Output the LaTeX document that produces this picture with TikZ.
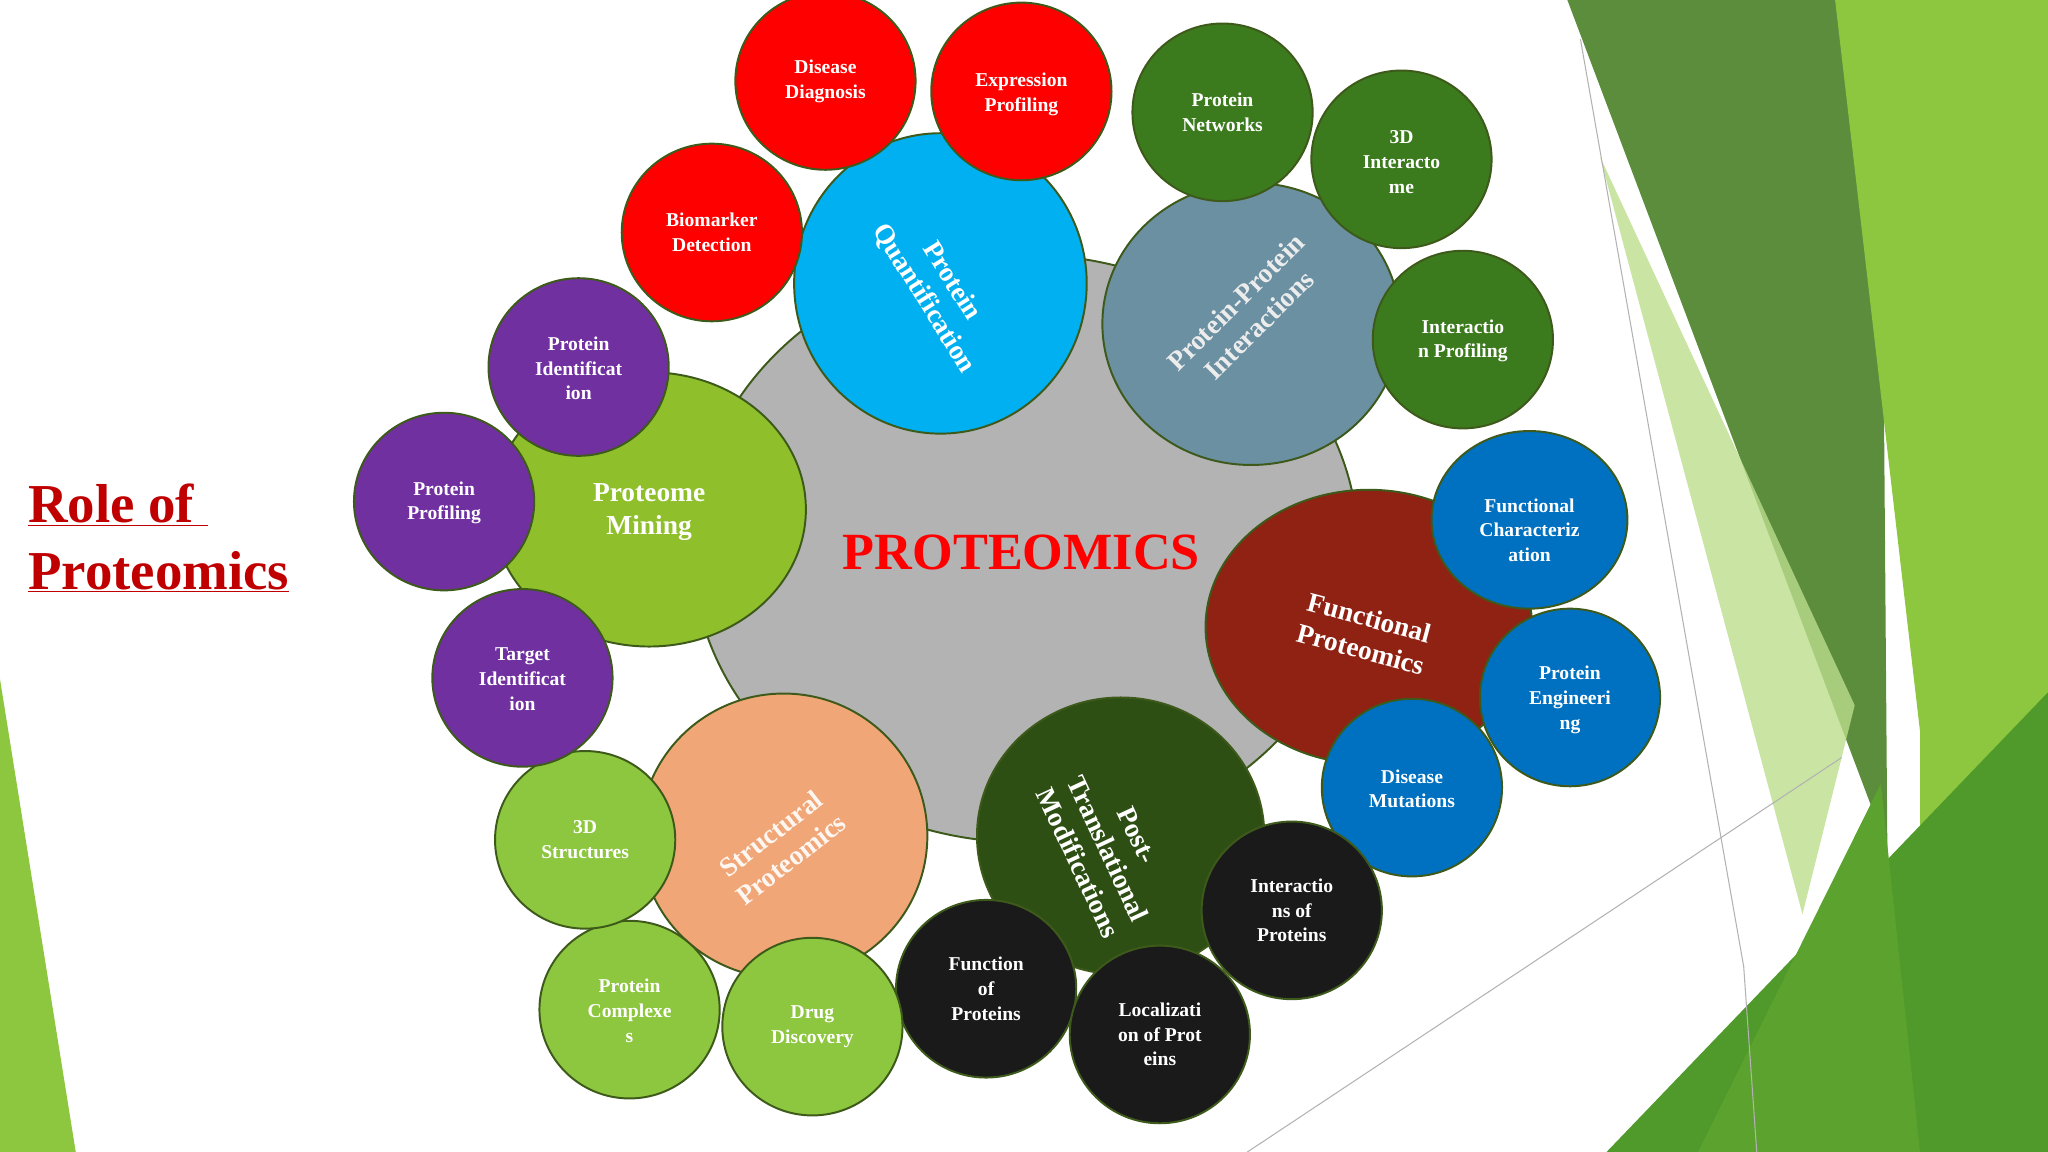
\documentclass[tikz,border=0pt]{standalone}
\usepackage{fontspec}
\setmainfont{Liberation Serif}
\usetikzlibrary{shapes.geometric}
\definecolor{edge}{HTML}{3D5A1A}
\definecolor{cgray}{HTML}{B3B3B3}
\definecolor{ccyan}{HTML}{00B0F0}
\definecolor{csteel}{HTML}{6A90A2}
\definecolor{cdred}{HTML}{902214}
\definecolor{cdgreen}{HTML}{2E4F14}
\definecolor{csalmon}{HTML}{F0A676}
\definecolor{cmining}{HTML}{8FC02C}
\definecolor{cred}{HTML}{FF0000}
\definecolor{cgreen}{HTML}{3C7A1E}
\definecolor{cblue}{HTML}{0070C0}
\definecolor{cblack}{HTML}{1A1A1A}
\definecolor{clight}{HTML}{8DC63F}
\definecolor{cpurple}{HTML}{7030A0}
\definecolor{titlered}{HTML}{C00000}
\definecolor{bgdark}{HTML}{5B8D3C}
\definecolor{bgmid}{HTML}{4F9A2A}
\tikzset{
 blob/.style={ellipse,draw=edge,line width=1.5pt,inner sep=0pt},
 small/.style={blob,minimum width=138pt,minimum height=136pt},
 stxt/.style={text=white,font=\fontsize{15}{19}\selectfont\bfseries,align=center},
 btxt/.style={text=white,font=\fontsize{21}{25}\selectfont\bfseries,align=center},
}
\begin{document}
\begin{tikzpicture}[x=1pt,y=-1pt]
\useasboundingbox (0,0) rectangle (1568,882);
% background greens
\fill[clight] (0,520) -- (58,882) -- (0,882) -- cycle;
\fill[bgdark] (1200,0) -- (1440,0) -- (1445,650) -- cycle;
\fill[clight!60!white,opacity=0.8] (1225,120) -- (1420,540) -- (1380,700) -- cycle;
\fill[clight] (1405,0) -- (1568,0) -- (1568,882) -- (1470,882) -- (1470,560) -- cycle;
\fill[bgmid] (1230,882) -- (1568,530) -- (1568,882) -- cycle;
\fill[bgmid!80!clight] (1300,882) -- (1440,600) -- (1470,882) -- cycle;
\draw[gray!60,line width=0.8pt] (1210,30) -- (1335,740) -- (1345,882);
\draw[gray!60,line width=0.8pt] (955,882) -- (1410,580);
% center
\node[blob,fill=cgray,minimum width=510pt,minimum height=450pt] (center) at (785,420) {};
\node[text=cred,font=\fontsize{40}{44}\selectfont\bfseries] (ctext) at (782,423) {PROTEOMICS};
% big
\node[blob,fill=cmining,minimum width=240pt,minimum height=210pt] (pm) at (497,390) {};
\node[btxt] (pmt) at (497,392) {Proteome\\Mining};
\node[blob,fill=ccyan,minimum width=224pt,minimum height=230pt] (pq) at (720,217) {};
\node[btxt,rotate=-58] (pqt) at (718,222) {Protein\\Quantification};
\node[blob,fill=csteel,minimum width=228pt,minimum height=216pt] (ppi) at (958,248) {};
\node[btxt,rotate=45,text=white!85!gray] (ppit) at (955,240) {Protein-Protein\\Interactions};
\node[blob,fill=cdred,minimum width=250pt,minimum height=210pt] (fp) at (1048,480) {};
\node[btxt,rotate=-15] (fpt) at (1045,485) {Functional\\Proteomics};
\node[blob,fill=csalmon,minimum width=220pt,minimum height=218pt] (sp) at (600,640) {};
\node[btxt,rotate=38,text=white!90!csalmon] (spt) at (598,648) {Structural\\Proteomics};
\node[blob,fill=cdgreen,minimum width=220pt,minimum height=212pt] (ptm) at (858,640) {};
\node[btxt,rotate=-65] (ptmt) at (848,650) {Post-\\Translational\\Modifications};
% small red
\node[small,fill=cred] (dd) at (632,62) {}; \node[stxt] (ddt) at (632,62) {Disease\\Diagnosis};
\node[small,fill=cred] (ep) at (782,70) {}; \node[stxt] (ept) at (782,72) {Expression\\Profiling};
\node[small,fill=cred] (bd) at (545,178) {}; \node[stxt] (bdt) at (545,178) {Biomarker\\Detection};
% dark green
\node[small,fill=cgreen] (pn) at (936,86) {}; \node[stxt] (pnt) at (936,86) {Protein\\Networks};
\node[small,fill=cgreen] (ti) at (1073,122) {}; \node[stxt] (tit) at (1073,124) {3D\\Interacto\\me};
\node[small,fill=cgreen] (ip) at (1120,260) {}; \node[stxt] (ipt) at (1120,261) {Interactio\\n Profiling};
% blue
\node[small,fill=cblue,minimum width=150pt] (fc) at (1171,398) {}; \node[stxt] (fct) at (1171,406) {Functional\\Characteriz\\ation};
\node[small,fill=cblue] (pe) at (1202,534) {}; \node[stxt] (pet) at (1202,536) {Protein\\Engineeri\\ng};
\node[small,fill=cblue] (dm) at (1081,603) {}; \node[stxt] (dmt) at (1081,604) {Disease\\Mutations};
% black
\node[small,fill=cblack] (inp) at (989,697) {}; \node[stxt] (inpt) at (989,697) {Interactio\\ns of\\Proteins};
\node[small,fill=cblack] (fop) at (755,757) {}; \node[stxt] (fopt) at (755,757) {Function\\of\\Proteins};
\node[small,fill=cblack] (lop) at (888,792) {}; \node[stxt] (lopt) at (888,792) {Localizati\\on of Prot\\eins};
% light green
\node[small,fill=clight] (dr) at (622,786) {}; \node[stxt] (drt) at (622,786) {Drug\\Discovery};
\node[small,fill=clight] (pc) at (482,773) {}; \node[stxt] (pct) at (482,774) {Protein\\Complexe\\s};
\node[small,fill=clight] (ds) at (448,643) {}; \node[stxt] (dst) at (448,643) {3D\\Structures};
% purple
\node[small,fill=cpurple] (tid) at (400,519) {}; \node[stxt] (tidt) at (400,520) {Target\\Identificat\\ion};
\node[small,fill=cpurple] (ppr) at (340,384) {}; \node[stxt] (pprt) at (340,385) {Protein\\Profiling};
\node[small,fill=cpurple] (pid) at (443,281) {}; \node[stxt] (pidt) at (443,282) {Protein\\Identificat\\ion};
% title
\node[anchor=west,text=titlered,font=\fontsize{42}{51}\selectfont\bfseries,align=left] (title) at (18,412) {\underline{Role of\ }\\\underline{Proteomics}};
\end{tikzpicture}
\end{document}
